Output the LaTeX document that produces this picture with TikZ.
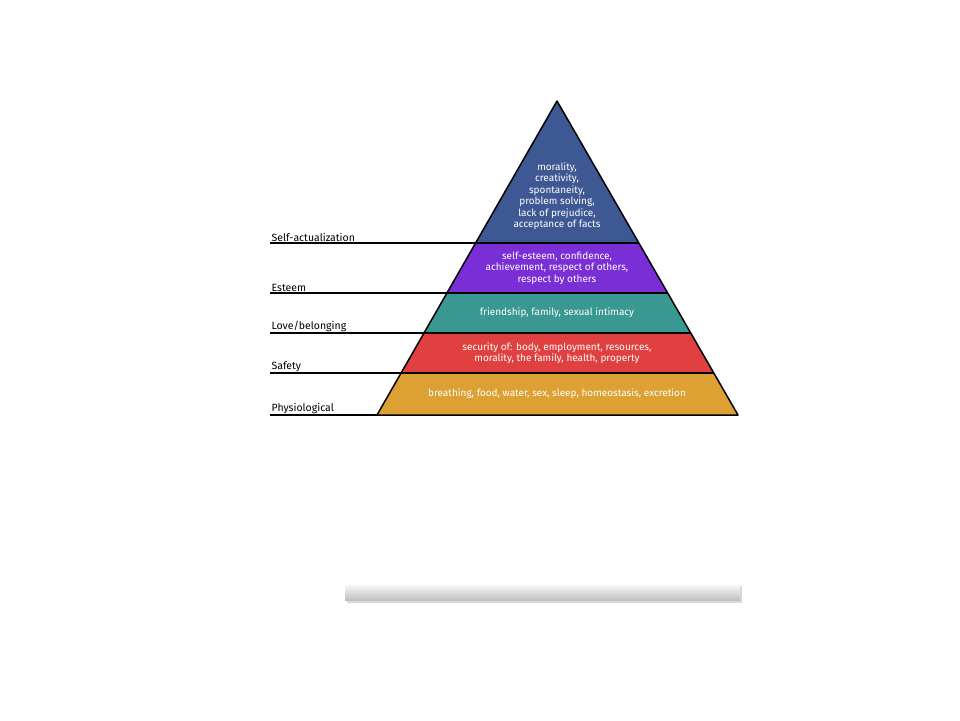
\documentclass[tikz,border=0pt]{standalone}
\usepackage{fontspec}
\setmainfont{Fira Sans}
\usetikzlibrary{calc,positioning}
\tikzstyle{band} = [draw=black, line width=1.5pt, line join=round]
\tikzstyle{bandtext} = [text=white, align=center, font=\fontsize{10}{11.5}\selectfont]
\tikzstyle{levellabel} = [anchor=south west, inner sep=1pt, font=\fontsize{10.5}{12}\selectfont]
\tikzstyle{levelline} = [line width=1.2pt]
\begin{document}
\begin{tikzpicture}[x=1pt,y=-1pt]
        \useasboundingbox (0,0) rectangle (960,720);
        \coordinate (Top) at (557,101);
        \coordinate (SaL) at (475.6,243); \coordinate (SaR) at (638.9,243);
        \coordinate (EsL) at (447,293); \coordinate (EsR) at (667.7,293);
        \coordinate (LoL) at (424,333); \coordinate (LoR) at (690.7,333);
        \coordinate (SfL) at (401,373); \coordinate (SfR) at (713.8,373);
        \coordinate (PhL) at (377,415); \coordinate (PhR) at (738,415);
        \fill [color={rgb,255:red,62;green,88;blue,148}] (Top) -- (SaR) -- (SaL) -- cycle; %self-actualization
        \fill [color={rgb,255:red,122;green,46;blue,214}] (SaL) -- (SaR) -- (EsR) -- (EsL) -- cycle; %esteem
        \fill [color={rgb,255:red,58;green,152;blue,146}] (EsL) -- (EsR) -- (LoR) -- (LoL) -- cycle; %love
        \fill [color={rgb,255:red,224;green,64;blue,64}] (LoL) -- (LoR) -- (SfR) -- (SfL) -- cycle; %safety
        \fill [color={rgb,255:red,221;green,160;blue,50}] (SfL) -- (SfR) -- (PhR) -- (PhL) -- cycle; %physiological
        \draw [band] (Top) -- (PhR) -- (PhL) -- cycle;
        \draw [band] (SaL) -- (SaR); \draw [band] (EsL) -- (EsR);
        \draw [band] (LoL) -- (LoR); \draw [band] (SfL) -- (SfR);
        \node [bandtext] (SaText) at (557,196) {morality,\\creativity,\\spontaneity,\\problem solving,\\lack of prejudice,\\acceptance of facts};
        \node [bandtext] (EsText) at (557,268) {self-esteem, confidence,\\achievement, respect of others,\\respect by others};
        \node [bandtext] (LoText) at (557,313) {friendship, family, sexual intimacy};
        \node [bandtext] (SfText) at (557,353) {security of: body, employment, resources,\\morality, the family, health, property};
        \node [bandtext] (PhText) at (557,394) {breathing, food, water, sex, sleep, homeostasis, excretion};
        \coordinate (SaEnd) at (270,243); \coordinate (EsEnd) at (270,293);
        \coordinate (LoEnd) at (270,333); \coordinate (SfEnd) at (270,373);
        \coordinate (PhEnd) at (270,415);
        \draw [levelline] (SaEnd) -- (SaL) node[levellabel, pos=0] (SaLabel) {Self-actualization};
        \draw [levelline] (EsEnd) -- (EsL) node[levellabel, pos=0] (EsLabel) {Esteem};
        \draw [levelline] (LoEnd) -- (LoL) node[levellabel, pos=0] (LoLabel) {Love/belonging};
        \draw [levelline] (SfEnd) -- (SfL) node[levellabel, pos=0] (SfLabel) {Safety};
        \draw [levelline] (PhEnd) -- (PhL) node[levellabel, pos=0] (PhLabel) {Physiological};
        \fill [black!15] (347,586) rectangle (742,603); %shadow
        \shade [top color=white, bottom color=black!25] (345,583) rectangle (740,600); %bar
\end{tikzpicture}
\end{document}
